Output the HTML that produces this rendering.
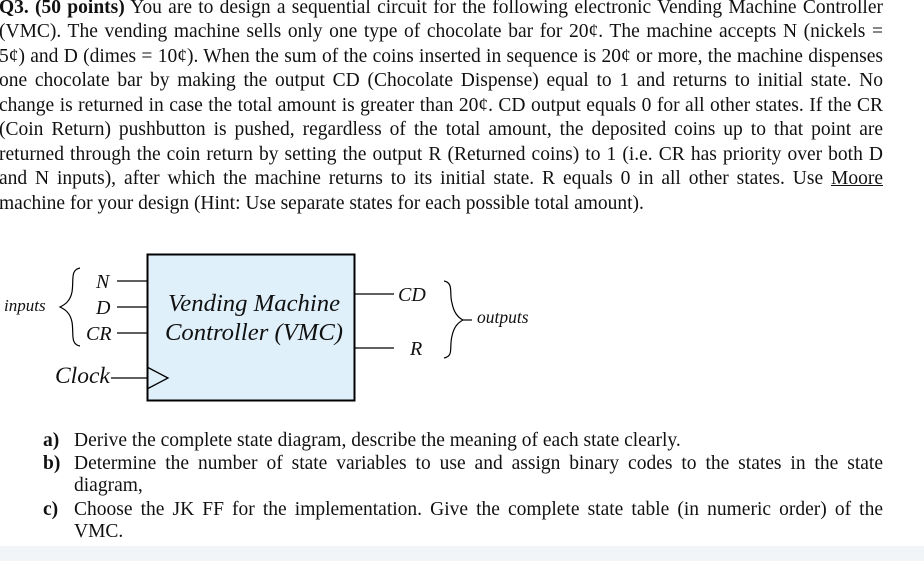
<!DOCTYPE html>
<html><head><meta charset="utf-8"><style>
body{margin:0;width:924px;height:561px;background:#fff;position:relative;overflow:hidden;font-family:"Liberation Serif",serif;color:#111}
.l{position:absolute;left:-1px;width:884px;font-size:19.5px;line-height:20px;text-align:justify;text-align-last:justify;white-space:nowrap}
.l.n{text-align-last:left}
.q{position:absolute;font-size:19.5px;line-height:20px;white-space:nowrap}
</style></head><body>
<div class="l" style="top:-2px"><b>Q3. (50 points)</b> You are to design a sequential circuit for the following electronic Vending Machine Controller</div>
<div class="l" style="top:22px">(VMC). The vending machine sells only one type of chocolate bar for 20¢. The machine accepts N (nickels =</div>
<div class="l" style="top:47px">5¢) and D (dimes = 10¢). When the sum of the coins inserted in sequence is 20¢ or more, the machine dispenses</div>
<div class="l" style="top:71px">one chocolate bar by making the output CD (Chocolate Dispense) equal to 1 and returns to initial state. No</div>
<div class="l" style="top:96px">change is returned in case the total amount is greater than 20¢. CD output equals 0 for all other states. If the CR</div>
<div class="l" style="top:120px">(Coin Return) pushbutton is pushed, regardless of the total amount, the deposited coins up to that point are</div>
<div class="l" style="top:145px">returned through the coin return by setting the output R (Returned coins) to 1 (i.e. CR has priority over both D</div>
<div class="l" style="top:169px">and N inputs), after which the machine returns to its initial state. R equals 0 in all other states. Use <u>Moore</u></div>
<div class="l n" style="top:194px">machine for your design (Hint: Use separate states for each possible total amount).</div>

<svg style="position:absolute;left:0;top:0" width="924" height="561">
<rect x="147.5" y="254.5" width="207" height="146" fill="#dff0fb" stroke="#000" stroke-width="2"/>
<g stroke="#000" stroke-width="1.2" fill="none">
<line x1="117" y1="281" x2="147" y2="281"/>
<line x1="117" y1="307" x2="147" y2="307"/>
<line x1="117" y1="333" x2="147" y2="333"/>
<line x1="111" y1="378" x2="147" y2="378"/>
<polyline points="147,367 168,378 147,389" stroke-width="1.3"/>
<line x1="355" y1="294" x2="394" y2="294"/>
<line x1="355" y1="348" x2="394" y2="348"/>
<path d="M80,268 C70,270 74,280 72,292 C70,302 64,305 60,307 C64,309 70,312 72,322 C74,334 70,344 80,346"/>
<path d="M444,281 C454,283 449,293 452,303 C454,314 459,318 463,320 C459,322 454,326 452,336 C449,348 454,356 444,358"/>
<line x1="463" y1="320" x2="472" y2="320"/>
</g>
<g font-family="Liberation Serif,serif" font-style="italic" fill="#111">
<text x="96" y="288" font-size="20">N</text>
<text x="96" y="314" font-size="20">D</text>
<text x="86" y="340" font-size="20">CR</text>
<text x="4" y="311" font-size="17">inputs</text>
<text x="55" y="383" font-size="23.5">Clock</text>
<text x="254" y="311" font-size="24.7" text-anchor="middle">Vending Machine</text>
<text x="254" y="340" font-size="24.7" text-anchor="middle">Controller (VMC)</text>
<text x="398" y="301" font-size="20">CD</text>
<text x="410" y="355" font-size="20">R</text>
<text x="477" y="323" font-size="17.5">outputs</text>
</g>
</svg>

<div class="q" style="left:43px;top:431px"><b>a)</b></div><div class="q" style="left:74px;top:431px">Derive the complete state diagram, describe the meaning of each state clearly.</div>
<div class="q" style="left:43px;top:454px"><b>b)</b></div><div class="q" style="left:74px;top:454px;width:809px;text-align:justify;text-align-last:justify">Determine the number of state variables to use and assign binary codes to the states in the state</div>
<div class="q" style="left:74px;top:476px">diagram,</div>
<div class="q" style="left:43px;top:500px"><b>c)</b></div><div class="q" style="left:74px;top:500px;width:809px;text-align:justify;text-align-last:justify">Choose the JK FF for the implementation. Give the complete state table (in numeric order) of the</div>
<div class="q" style="left:74px;top:522px">VMC.</div>
<div style="position:absolute;left:0;top:546px;width:924px;height:15px;background:#f2f5f8"></div>
</body></html>
